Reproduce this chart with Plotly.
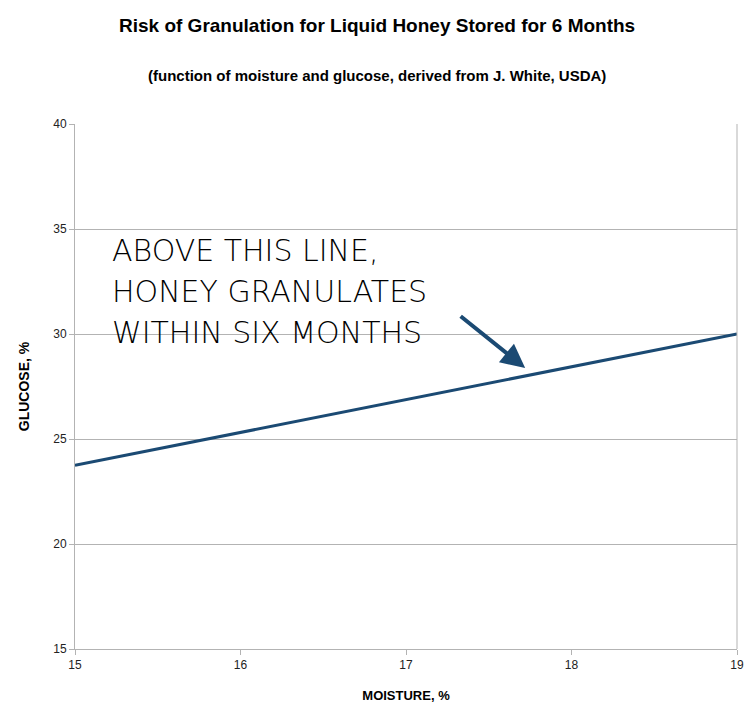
import plotly.graph_objects as go

# threshold line: moisture vs glucose
moisture = [15, 19]
glucose = [23.75, 30.0]

x_ticks = [15, 16, 17, 18, 19]
y_ticks = [15, 20, 25, 30, 35, 40]

note_lines = ["ABOVE THIS LINE,", "HONEY GRANULATES", "WITHIN SIX MONTHS"]

sans = "Liberation Sans Narrow, Arial Narrow, Liberation Sans, Arial, sans-serif"

fig = go.Figure()
fig.add_trace(go.Scatter(x=moisture, y=glucose, mode="lines",
                         line=dict(color="#1b4a73", width=3),
                         showlegend=False, hoverinfo="skip"))

fig.update_layout(
    width=756, height=717,
    margin=dict(l=75, r=17, t=124, b=68),
    paper_bgcolor="white", plot_bgcolor="white",
    font=dict(family=sans, color="#222222", size=12),
)

fig.update_xaxes(range=[15, 19], tickvals=x_ticks, showgrid=False,
                 showline=True, linecolor="#b3b3b3", linewidth=1,
                 ticks="outside", ticklen=5, tickcolor="#b3b3b3",
                 zeroline=False,
                 title=dict(text="<b>MOISTURE, %</b>", standoff=19,
                            font=dict(size=13, color="black")))
fig.update_yaxes(range=[15, 40], tickvals=y_ticks, showgrid=True,
                 gridcolor="#b3b3b3", gridwidth=1,
                 showline=True, linecolor="#b3b3b3", linewidth=1,
                 ticks="outside", ticklen=5, tickcolor="#b3b3b3",
                 zeroline=False,
                 title=dict(text="<b>GLUCOSE, %</b>", standoff=20,
                            font=dict(size=14, color="black")))

# right border of plot area
fig.add_shape(type="line", xref="paper", yref="paper", x0=1, x1=1, y0=0, y1=1,
              line=dict(color="#b3b3b3", width=1))

# titles centred on the page, not the plot area
centre_shift = 378 - (75 + 664 / 2)
fig.add_annotation(text="<b>Risk of Granulation for Liquid Honey Stored for 6 Months</b>",
                   xref="paper", yref="paper", x=0.5, y=1,
                   xanchor="center", yanchor="middle", showarrow=False,
                   yshift=124 - 25, xshift=centre_shift,
                   font=dict(size=19, color="black", family=sans))
fig.add_annotation(text="<b>(function of moisture and glucose, derived from J. White, USDA)</b>",
                   xref="paper", yref="paper", x=0.5, y=1,
                   xanchor="center", yanchor="middle", showarrow=False,
                   yshift=124 - 75, xshift=centre_shift,
                   font=dict(size=15, color="black", family=sans))

for i, line in enumerate(note_lines):
    fig.add_annotation(text=line, xref="paper", yref="paper", x=0, y=1,
                       xanchor="left", yanchor="middle", showarrow=False,
                       xshift=35, yshift=-(250 - 124) - 41 * i,
                       font=dict(size=30, color="black",
                                 family="Comic Sans MS, DejaVu Sans, sans-serif",
                                 weight=200))

fig.add_annotation(x=17.72, y=28.38, ax=-66, ay=-53, text="",
                   showarrow=True, arrowhead=2, arrowsize=1.2, arrowwidth=4,
                   arrowcolor="#1b4a73")

fig.write_html("out.html", config={"displayModeBar": False},
               post_script="document.body.style.margin='0';")
